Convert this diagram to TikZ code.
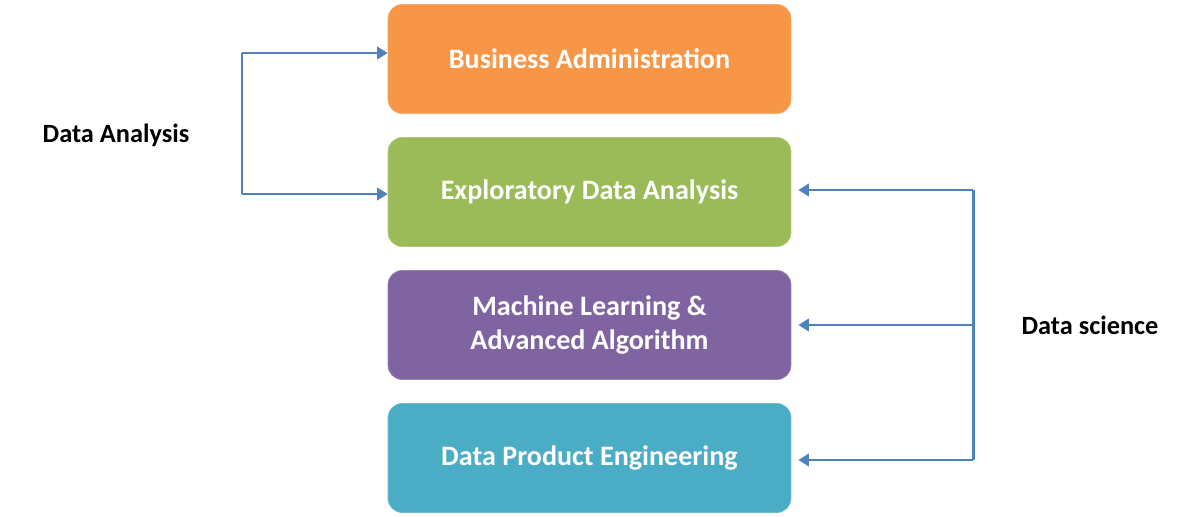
\documentclass[tikz,border=0pt]{standalone}
\usepackage{fontspec}
\setmainfont{Carlito}
\usetikzlibrary{arrows.meta}
\definecolor{corange}{RGB}{247,150,70}
\definecolor{cgreen}{RGB}{155,187,89}
\definecolor{cpurple}{RGB}{128,100,162}
\definecolor{cteal}{RGB}{75,172,198}
\definecolor{cline}{RGB}{79,129,189}
\tikzset{
  box/.style={rounded corners=8pt,minimum width=8.06cm,minimum height=2.18cm,text=white,font=\fontsize{16}{19}\selectfont\bfseries,align=center,inner sep=0pt},
  conn/.style={draw=cline,line width=1.7pt,-{Triangle[length=6pt,width=7pt]}},
  lab/.style={font=\fontsize{15}{18}\selectfont\bfseries}
}
\begin{document}
\begin{tikzpicture}[x=0.02cm,y=-0.02cm]
\useasboundingbox (0,0) rectangle (1200,517);
\node[box,fill=corange,draw=corange!80!white] (b1) at (589.5,59) {Business Administration};
\node[box,fill=cgreen,draw=cgreen!80!white] (b2) at (589.5,192) {Exploratory Data Analysis};
\node[box,fill=cpurple,draw=cpurple!80!white] (b3) at (589.5,325) {Machine Learning \&\\Advanced Algorithm};
\node[box,fill=cteal,draw=cteal!80!white] (b4) at (589.5,458) {Data Product Engineering};
\node[lab] (da) at (116,135) {Data Analysis};
\node[lab] (ds) at (1090,325) {Data science};
\coordinate (l1) at (242,53);
\coordinate (l2) at (242,194);
\coordinate (r1) at (973,190);
\coordinate (r3) at (973,325);
\coordinate (r4) at (973,460);
\draw[cline,line width=1.7pt] (l1) -- (l2);
\draw[conn] (l1) -- (b1.west |- l1);
\draw[conn] (l2) -- (b2.west |- l2);
\draw[cline,line width=1.7pt] (r1) -- (r4);
\draw[conn] (r1) -- ([xshift=4pt]b2.east |- r1);
\draw[conn] (r3) -- ([xshift=4pt]b3.east |- r3);
\draw[conn] (r4) -- ([xshift=4pt]b4.east |- r4);
\end{tikzpicture}
\end{document}
